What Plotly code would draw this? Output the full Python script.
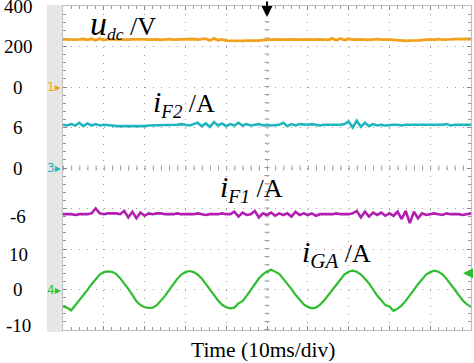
import plotly.graph_objects as go

# ---------------- data ----------------
TIME_MS = list(range(0, 101))  # sample instants, 1 ms apart (10 ms/div)

U_DC_V = [235, 234, 236, 234, 235, 237, 233, 238, 231, 239,
          232, 236, 235, 234, 236, 235, 234, 235, 236, 234,
          235, 234, 236, 235, 233, 235, 236, 234, 235, 236,
          234, 235, 237, 234, 236, 239, 230, 240, 231, 235,
          229, 228, 229, 227, 228, 229, 228, 230, 229, 231,
          233, 234, 235, 234, 235, 236, 234, 235, 234, 236,
          235, 234, 236, 235, 234, 233, 239, 231, 240, 232,
          238, 234, 235, 236, 234, 233, 235, 236, 234, 235,
          234, 233, 231, 229, 228, 229, 228, 230, 232, 234,
          235, 233, 236, 234, 233, 235, 236, 237, 236, 238, 237]

I_F2_A = [6.4, 6.3, 6.5, 6.3, 6.7, 6.2, 6.6, 6.3, 6.5, 6.3,
          6.4, 6.4, 6.3, 6.2, 6.2, 6.1, 6.2, 6.2, 6.1, 6.2,
          6.2, 6.3, 6.3, 6.4, 6.4, 6.4, 6.3, 6.4, 6.4, 6.5,
          6.4, 6.3, 6.5, 6.7, 6.2, 6.6, 6.1, 6.8, 6.3, 6.6,
          6.2, 6.5, 6.3, 6.7, 6.3, 6.5, 6.3, 6.4, 6.5, 6.3,
          6.4, 6.3, 6.4, 6.4, 6.7, 6.2, 6.5, 6.3, 6.5, 6.4,
          6.4, 6.5, 6.4, 6.3, 6.4, 6.4, 6.4, 6.3, 6.4, 6.5,
          6.9, 6.0, 7.0, 6.1, 6.7, 6.2, 6.5, 6.3, 6.4, 6.3,
          6.4, 6.4, 6.4, 6.3, 6.4, 6.4, 6.3, 6.4, 6.4, 6.4,
          6.3, 6.4, 6.4, 6.4, 6.5, 6.3, 6.4, 6.4, 6.4, 6.5, 6.4]

I_F1_A = [-5.7, -5.7, -5.7, -5.8, -5.7, -5.7, -5.7, -5.6, -5.0, -5.6,
          -5.7, -5.6, -5.6, -5.6, -5.7, -5.3, -6.1, -5.4, -6.2, -5.5,
          -5.9, -5.6, -5.7, -5.6, -5.6, -5.7, -5.7, -5.7, -5.6, -5.7,
          -5.7, -5.7, -5.7, -5.6, -5.7, -5.8, -5.7, -5.7, -5.7, -5.6,
          -5.7, -5.7, -5.4, -6.0, -5.5, -5.8, -5.7, -5.3, -6.1, -5.6,
          -5.8, -5.5, -5.9, -5.6, -5.8, -5.6, -6.0, -5.4, -5.8, -5.6,
          -5.8, -5.6, -5.9, -5.7, -5.7, -5.7, -5.7, -5.6, -5.7, -5.7,
          -5.7, -5.6, -5.3, -6.1, -5.4, -6.0, -5.5, -5.8, -5.5, -5.9,
          -5.6, -5.9, -5.4, -6.3, -5.3, -6.8, -5.4, -6.2, -5.6, -5.8,
          -5.7, -5.6, -5.7, -5.8, -5.6, -5.7, -5.7, -5.7, -5.8, -5.7, -5.6]

I_GA_A = [-4.8, -5.1, -5.9, -4.5, -3.1, -1.7, -0.1, 1.5, 3.0, 4.2,
          4.9, 5.1, 5.0, 4.4, 3.2, 1.8, 0.2, -1.5, -3.3, -4.4,
          -5.0, -5.2, -5.1, -4.4, -3.2, -1.8, -0.2, 1.5, 3.0, 4.2,
          4.9, 5.2, 4.9, 4.2, 3.1, 1.6, 0.0, -1.6, -3.1, -4.3,
          -5.0, -5.3, -5.1, -3.9, -3.3, -1.8, -0.1, 1.6, 3.1, 4.3,
          5.1, 5.6, 5.0, 4.4, 3.0, 1.7, 0.1, -1.5, -3.0, -4.2,
          -4.9, -5.3, -5.1, -4.3, -3.1, -1.6, 0.0, 1.6, 3.0, 4.3,
          5.0, 5.3, 5.0, 4.2, 3.0, 1.7, 0.0, -1.7, -3.0, -4.4,
          -4.8, -6.0, -5.4, -4.5, -3.2, -1.8, -0.1, 1.5, 3.0, 4.2,
          4.9, 5.3, 5.0, 4.3, 3.0, 1.6, 0.0, -1.6, -3.1, -4.2, -4.9]

CH1_TICKS = [400, 200, 0]
CH2_TICKS = [6, 0]
CH3_TICKS = [-6]
CH4_TICKS = [10, 0, -10]
TRIGGER_LEVEL_A = 4.6
TRIGGER_TIME_MS = 50

X_TITLE = "Time (10ms/div)"


def label(sym, sym_size, subtxt, unit):
    return (f'<span style="font-size:{sym_size}px"><i>{sym}</i></span>'
            f'<sub><i>{subtxt}</i></sub>'
            f'<span style="font-size:26px"> /{unit}</span>')


LABEL_UDC = label("u", 34, "dc", "V")
LABEL_IF2 = label("i", 30, "F2", "A")
LABEL_IF1 = label("i", 30, "F1", "A")
LABEL_IGA = label("i", 30, "GA", "A")
LABEL_BASE_SIZE = [25, 27, 28, 30]

# ---------------- style ----------------
ORANGE = "#F2A11F"
CYAN = "#1FB5BE"
MAGENTA = "#B21DB2"
GREEN = "#2EBD2E"
GRID = "#9a9a9a"
FRAME = "#bdbdbd"
SERIF = "Liberation Serif, Times New Roman, serif"

W, H = 474, 363
ML, MR, MT, MB = 63, 3, 6, 33
PW, PH = W - ML - MR, H - MT - MB


def px_x(p):
    return (p - ML) / PW


def px_y(p):
    return (MT + PH - p) / PH


fig = go.Figure()
fig.add_trace(go.Scatter(x=TIME_MS, y=U_DC_V, mode="lines", yaxis="y",
                         line=dict(color=ORANGE, width=2.8), name="udc"))
fig.add_trace(go.Scatter(x=TIME_MS, y=I_F2_A, mode="lines", yaxis="y2",
                         line=dict(color=CYAN, width=2.6), name="iF2"))
fig.add_trace(go.Scatter(x=TIME_MS, y=I_F1_A, mode="lines", yaxis="y3",
                         line=dict(color=MAGENTA, width=2.6), name="iF1"))
fig.add_trace(go.Scatter(x=TIME_MS, y=I_GA_A, mode="lines", yaxis="y4",
                         line=dict(color=GREEN, width=2.2), name="iGA"))

div_x = PW / 10.0
div_y = PH / 8.0
dash_x = f"1px,{div_x / 5 - 1:.2f}px"
dash_y = f"1px,{div_y / 5 - 1:.2f}px"

zero4 = MT + PH - div_y      # ch4 ground on the 1st division line above the bottom
px_per_a4 = 3.55             # 10 A spans ~35.5 px

fig.update_layout(
    width=W, height=H,
    margin=dict(l=ML, r=MR, t=MT, b=MB, pad=0),
    paper_bgcolor="white", plot_bgcolor="white",
    showlegend=False,
    xaxis=dict(range=[0, 100], dtick=10, tick0=0, showgrid=True,
               gridcolor=GRID, gridwidth=1, griddash=dash_y,
               zeroline=False, showline=True, linecolor=FRAME, linewidth=1,
               mirror="ticks", ticks="inside", ticklen=4, tickcolor="#888",
               minor=dict(ticks="inside", dtick=2, ticklen=3, tickcolor="#999", showgrid=False),
               showticklabels=False, fixedrange=True),
    yaxis=dict(range=[-1200, 400], dtick=200, tick0=0, showgrid=True,
               gridcolor=GRID, gridwidth=1, griddash=dash_x,
               zeroline=False, showline=True, linecolor=FRAME, linewidth=1,
               mirror="ticks", ticks="inside", ticklen=4, tickcolor="#888",
               minor=dict(ticks="inside", dtick=40, ticklen=3, tickcolor="#999", showgrid=False),
               showticklabels=False, fixedrange=True),
    yaxis2=dict(range=[-24, 24], overlaying="y", visible=False, fixedrange=True),
    yaxis3=dict(range=[-20, 20], overlaying="y", visible=False, fixedrange=True),
    yaxis4=dict(range=[-(MT + PH - zero4) / px_per_a4, (zero4 - MT) / px_per_a4],
                overlaying="y", visible=False, fixedrange=True),
)

# gray side strip
fig.add_shape(type="rect", xref="paper", yref="paper", x0=px_x(47), x1=0,
              y0=px_y(332), y1=px_y(5), fillcolor="#e6e6e6", line=dict(width=0), layer="below")

# centre crosshair with dense tick marks
fig.add_shape(type="line", xref="paper", yref="paper", x0=0, x1=1, y0=0.5, y1=0.5,
              line=dict(color="#9a9a9a", width=5, dash=dash_x), layer="below")
fig.add_shape(type="line", xref="x", yref="paper", x0=TRIGGER_TIME_MS, x1=TRIGGER_TIME_MS, y0=0, y1=1,
              line=dict(color="#9a9a9a", width=5, dash=dash_y), layer="below")

ann = []
# left scale labels
for ticks, yr in [(CH1_TICKS, "y"), (CH2_TICKS, "y2"), (CH3_TICKS, "y3"), (CH4_TICKS, "y4")]:
    for v in ticks:
        ann.append(dict(x=px_x(18), xref="paper", y=v, yref=yr, text=str(v), showarrow=False,
                        xanchor="center", yanchor="middle",
                        font=dict(family=SERIF, size=19, color="black")))

# channel ground markers
for txt, yr, col in [("1▸", "y", ORANGE), ("3▸", "y3", CYAN), ("4▸", "y4", GREEN)]:
    ann.append(dict(x=px_x(54), xref="paper", y=0, yref=yr, text=txt, showarrow=False,
                    xanchor="center", yanchor="middle",
                    font=dict(family="DejaVu Sans", size=12, color=col)))

# trace labels
for (txt, x, y), fs in zip([(LABEL_UDC, 88, 24), (LABEL_IF2, 151, 103),
                            (LABEL_IF1, 218, 188), (LABEL_IGA, 300, 254)], LABEL_BASE_SIZE):
    ann.append(dict(x=px_x(x), xref="paper", y=px_y(y), yref="paper", text=txt, showarrow=False,
                    xanchor="left", yanchor="middle",
                    font=dict(family=SERIF, size=fs, color="black")))

# x title
ann.append(dict(x=px_x(263), xref="paper", y=px_y(350), yref="paper", text=X_TITLE, showarrow=False,
                xanchor="center", yanchor="middle", font=dict(family=SERIF, size=21.5, color="black")))

# trigger position arrow (top) and trigger level arrow (right)
ann.append(dict(x=TRIGGER_TIME_MS, xref="x", y=px_y(17), yref="paper", text="", showarrow=True,
                ax=0, ay=-17, arrowhead=2, arrowsize=1.1, arrowwidth=2, arrowcolor="black"))
ann.append(dict(x=px_x(463), xref="paper", y=TRIGGER_LEVEL_A, yref="y4", text="", showarrow=True,
                ax=18, ay=0, arrowhead=2, arrowsize=1.0, arrowwidth=2, arrowcolor=GREEN))

fig.update_layout(annotations=ann)
fig.write_html("out.html", config={"displayModeBar": False, "staticPlot": True},
               post_script="document.body.style.margin='0px';document.body.style.overflow='hidden';")
